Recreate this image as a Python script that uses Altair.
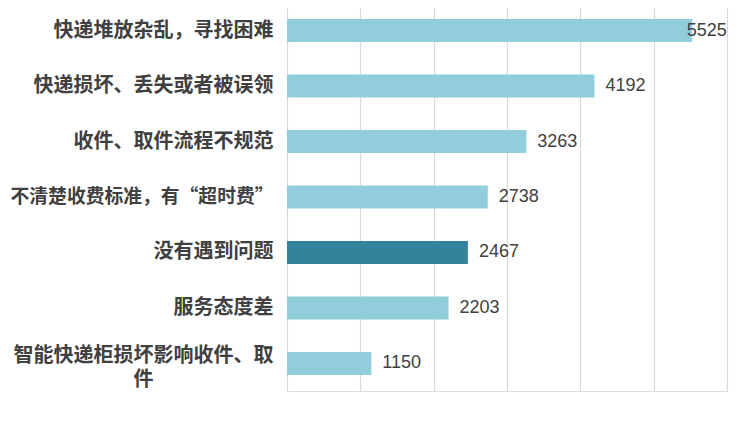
import altair as alt
import pandas as pd

categories = [
    "快递堆放杂乱，寻找困难",
    "快递损坏、丢失或者被误领",
    "收件、取件流程不规范",
    "不清楚收费标准，有“超时费”",
    "没有遇到问题",
    "服务态度差",
    "智能快递柜损坏影响收件、取件",
]
values = [5525, 4192, 3263, 2738, 2467, 2203, 1150]
highlight = [False, False, False, False, True, False, False]

df = pd.DataFrame({"cat": categories, "value": values, "hl": highlight})

wrapped = categories[6]
longest = categories[3]
label_expr = (
    f"datum.label == '{wrapped}' ? [substring(datum.label, 0, 13), "
    "substring(datum.label, 13) + '\u3000\u3000\u3000\u3000\u3000\u3000\u200b'] : datum.label"
)

y_enc = alt.Y(
    "cat:N",
    sort=categories,
    title=None,
    scale=alt.Scale(paddingInner=0.585, paddingOuter=0.29),
    axis=alt.Axis(
        labelExpr=label_expr,
        labelFont="Noto Sans CJK SC",
        labelFontSize={"condition": {"test": f"datum.value == '{longest}'", "value": 18.8}, "value": 20},
        labelFontWeight="bold",
        labelColor="#404040",
        labelPadding=14,
        labelLineHeight=24,
        labelLimit=400,
        labelOffset={"condition": {"test": f"datum.value == '{wrapped}'", "value": -7}, "value": 0},
        ticks=False,
        domain=False,
        grid=False,
    ),
)

x_scale = alt.Scale(domain=[0, 6000], nice=False)

bars = alt.Chart(df).mark_bar().encode(
    y=y_enc,
    x=alt.X(
        "value:Q",
        scale=x_scale,
        title=None,
        axis=alt.Axis(
            values=[0, 1000, 2000, 3000, 4000, 5000, 6000],
            labels=False,
            ticks=False,
            domain=False,
            grid=True,
            gridColor="#d9d9d9",
            gridWidth=1.2,
        ),
    ),
    color=alt.Color(
        "hl:N",
        scale=alt.Scale(domain=[False, True], range=["#92cddc", "#31849b"]),
        legend=None,
    ),
)

text = (
    alt.Chart(df)
    .transform_calculate(lx="min(datum.value + 150, 5450)")
    .mark_text(
        align="left",
        baseline="middle",
        font="Liberation Sans",
        fontSize=18,
        color="#404040",
    )
    .encode(
        y=alt.Y("cat:N", sort=categories),
        x=alt.X("lx:Q", scale=x_scale),
        text=alt.Text("value:Q", format="d"),
    )
)

chart = (
    alt.layer(bars, text)
    .properties(
        width=440,
        height=388,
        autosize=alt.AutoSizeParams(type="none"),
        padding={"left": 279, "top": -5, "right": 2, "bottom": 2},
    )
    .configure_view(stroke=None)
    .configure(background="white")
)

chart.save("out.html", embed_options={"renderer": "svg", "actions": False})
